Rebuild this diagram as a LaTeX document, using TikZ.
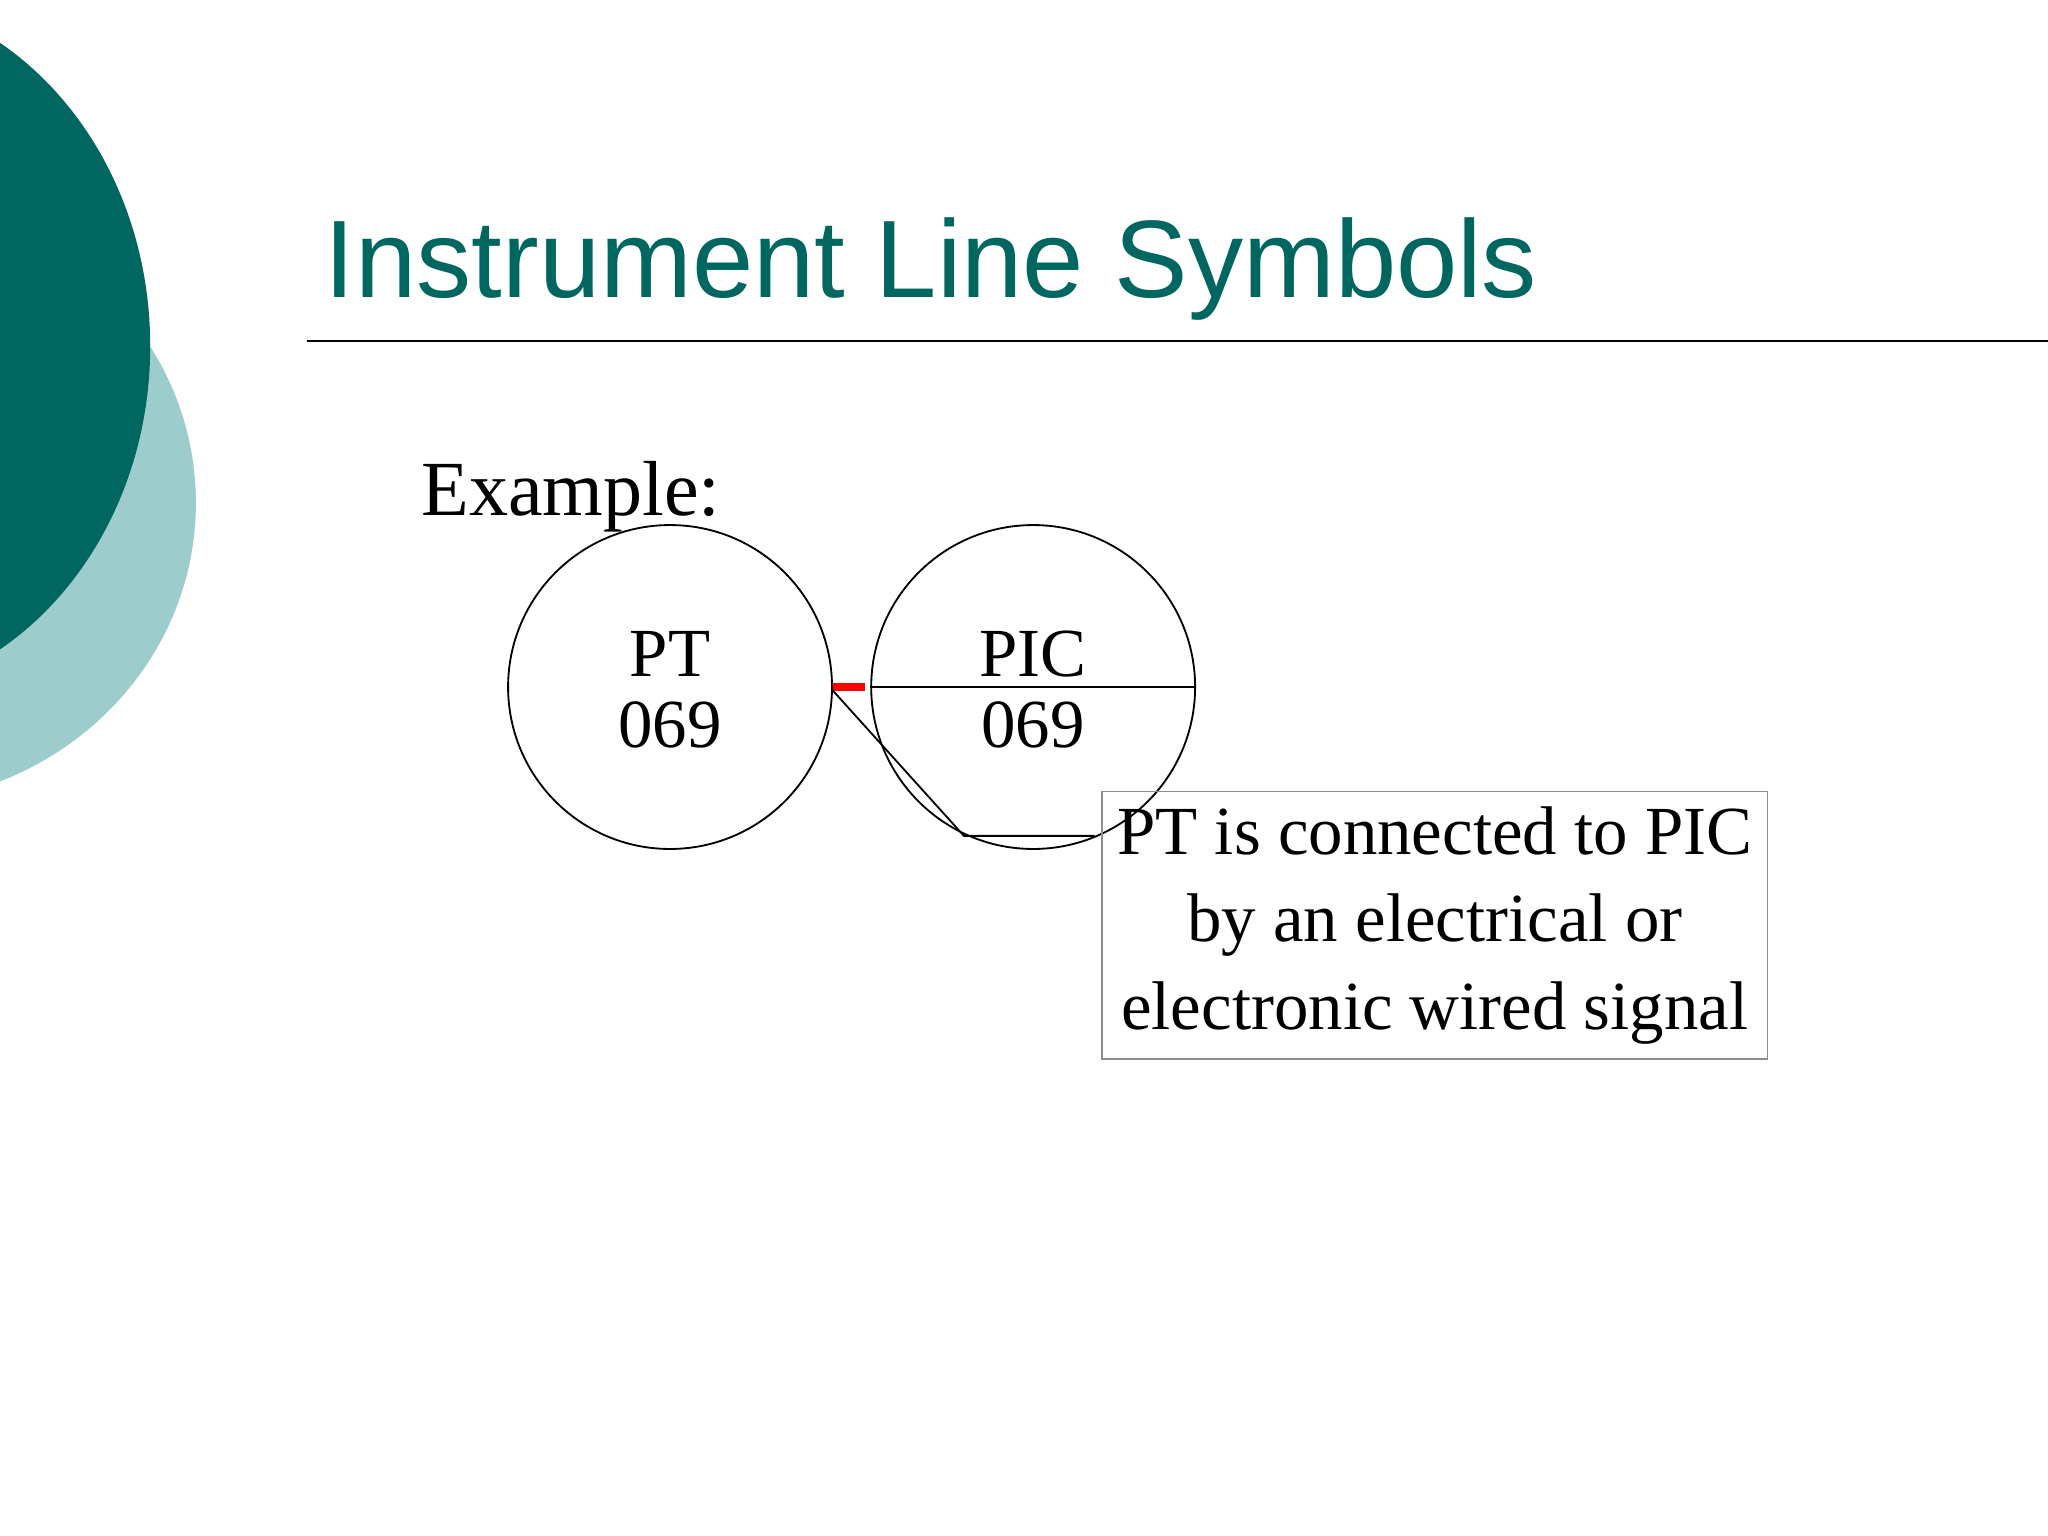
\documentclass[tikz,border=0pt]{standalone}
\usepackage{fontspec}
\setmainfont{Liberation Serif}
\newfontfamily\titlefont{Liberation Sans}
\usetikzlibrary{positioning}
\definecolor{darkteal}{HTML}{006660}
\definecolor{lightteal}{HTML}{9CCDCC}
\tikzset{
  instr/.style={circle, draw=black, thin, minimum size=2.48cm, inner sep=0pt},
  note/.style={rectangle, draw=black!45, minimum width=4.99cm, minimum height=1.69cm, align=center, font=\fontsize{15}{19}\selectfont},
  signal/.style={red, line width=1.6pt, dash pattern=on 7pt off 5pt}
}
\begin{document}
\begin{tikzpicture}[x=1cm,y=-1cm]
\useasboundingbox (0,0) rectangle (15.68,11.76);
\clip (0,0) rectangle (15.68,11.76);
% background shapes
\fill[lightteal] (-0.9,3.85) ellipse [x radius=2.4, y radius=2.3];
\fill[darkteal] (-1.2,2.65) ellipse [x radius=2.35, y radius=2.7];
% title
\node (title) [anchor=base west, inner sep=0pt, text=darkteal, font=\titlefont\fontsize{24}{28}\selectfont] at (2.48,2.28) {Instrument Line Symbols};
\draw[thin] (2.35,2.61) -- (15.68,2.61);
\node (example) [anchor=base west, inner sep=0pt, font=\fontsize{17}{20}\selectfont] at (3.22,3.95) {Example:};
% instruments
\node (pt) [instr] at (5.13,5.26) {};
\node (pic) [instr] at (7.91,5.26) {};
\node [font=\fontsize{15}{18}\selectfont] at (5.13,5.01) {PT};
\node [font=\fontsize{15}{18}\selectfont] at (5.13,5.55) {069};
\node [font=\fontsize{15}{18}\selectfont] at (7.91,5.01) {PIC};
\node [font=\fontsize{15}{18}\selectfont] at (7.91,5.55) {069};
\draw[thin] (pic.west) -- (pic.east);
\draw[signal] (pt.east) -- (pic.west);
% note
\node (box) [note] at (10.985,7.085) {PT is connected to PIC\\by an electrical or\\electronic wired signal};
\coordinate (tap) at (6.37,5.28);
\draw[thin] (tap) -- (7.38,6.40) -- (8.38,6.40);
\end{tikzpicture}
\end{document}
